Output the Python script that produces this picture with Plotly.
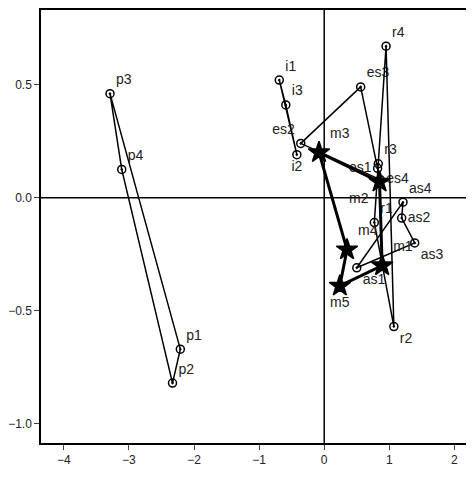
import plotly.graph_objects as go

# point coordinates
p_names = ["p3", "p4", "p2", "p1"]
p_x = [-3.29, -3.11, -2.33, -2.21]
p_y = [0.46, 0.125, -0.82, -0.67]

i_names = ["i1", "i3", "i2"]
i_x = [-0.69, -0.59, -0.42]
i_y = [0.52, 0.41, 0.19]

es_names = ["es2", "es3", "es1", "es4"]
es_x = [-0.36, 0.56, 0.82, 0.86]
es_y = [0.24, 0.49, 0.13, 0.08]

r_names = ["r4", "r3", "r1", "r2"]
r_x = [0.95, 0.83, 0.77, 1.07]
r_y = [0.67, 0.15, -0.11, -0.57]

as_names = ["as4", "as2", "as3", "as1"]
as_x = [1.21, 1.19, 1.39, 0.50]
as_y = [-0.02, -0.09, -0.20, -0.31]

m_names = ["m3", "m2", "m1", "m5", "m4"]
m_x = [-0.08, 0.85, 0.89, 0.24, 0.35]
m_y = [0.20, 0.07, -0.30, -0.39, -0.23]

FONT = "Liberation Sans, Arial, sans-serif"

fig = go.Figure()


def closed(v):
    return list(v) + [v[0]]


def add_group(names, xs, ys, positions, star=False):
    fig.add_trace(go.Scatter(
        x=closed(xs), y=closed(ys), mode="lines",
        line=dict(color="black", width=3 if star else 1.5),
        hoverinfo="skip", showlegend=False))
    fig.add_trace(go.Scatter(
        x=xs, y=ys, mode="markers+text", text=names, textposition=positions,
        textfont=dict(family=FONT, size=14, color="#222"),
        marker=dict(symbol="star" if star else "circle-open-dot",
                    size=16 if star else 8, color="black",
                    line=dict(color="black", width=1.5)),
        showlegend=False))


add_group(p_names, p_x, p_y, ["top right"] * 4)
add_group(i_names, i_x, i_y, ["top right", "top right", "bottom center"])
add_group(es_names, es_x, es_y, ["top left", "top right", "middle left", "middle right"])
add_group(r_names, r_x, r_y, ["top right", "top right", "top right", "bottom right"])
add_group(as_names, as_x, as_y, ["top right", "middle right", "bottom right", "bottom right"])
add_group(m_names, m_x, m_y, ["top right", "bottom left", "top right", "bottom center", "top right"], star=True)

fig.add_vline(x=0, line=dict(color="black", width=1.5))
fig.add_hline(y=0, line=dict(color="black", width=1.5))

axis = dict(showgrid=False, zeroline=False, showline=True, mirror=True,
            linecolor="black", linewidth=1.5, ticks="outside", ticklen=5,
            tickfont=dict(family=FONT, size=12, color="#222"))
fig.update_xaxes(range=[-4.35, 2.27], tickvals=[-4, -3, -2, -1, 0, 1, 2], **axis)
fig.update_yaxes(range=[-1.085, 0.83], tickvals=[-1.0, -0.5, 0.0, 0.5],
                 tickformat=".1f", **axis)
fig.update_layout(width=466, height=471, plot_bgcolor="white", paper_bgcolor="white",
                  margin=dict(l=29, r=1, t=0, b=36))
fig.write_html("out.html")
